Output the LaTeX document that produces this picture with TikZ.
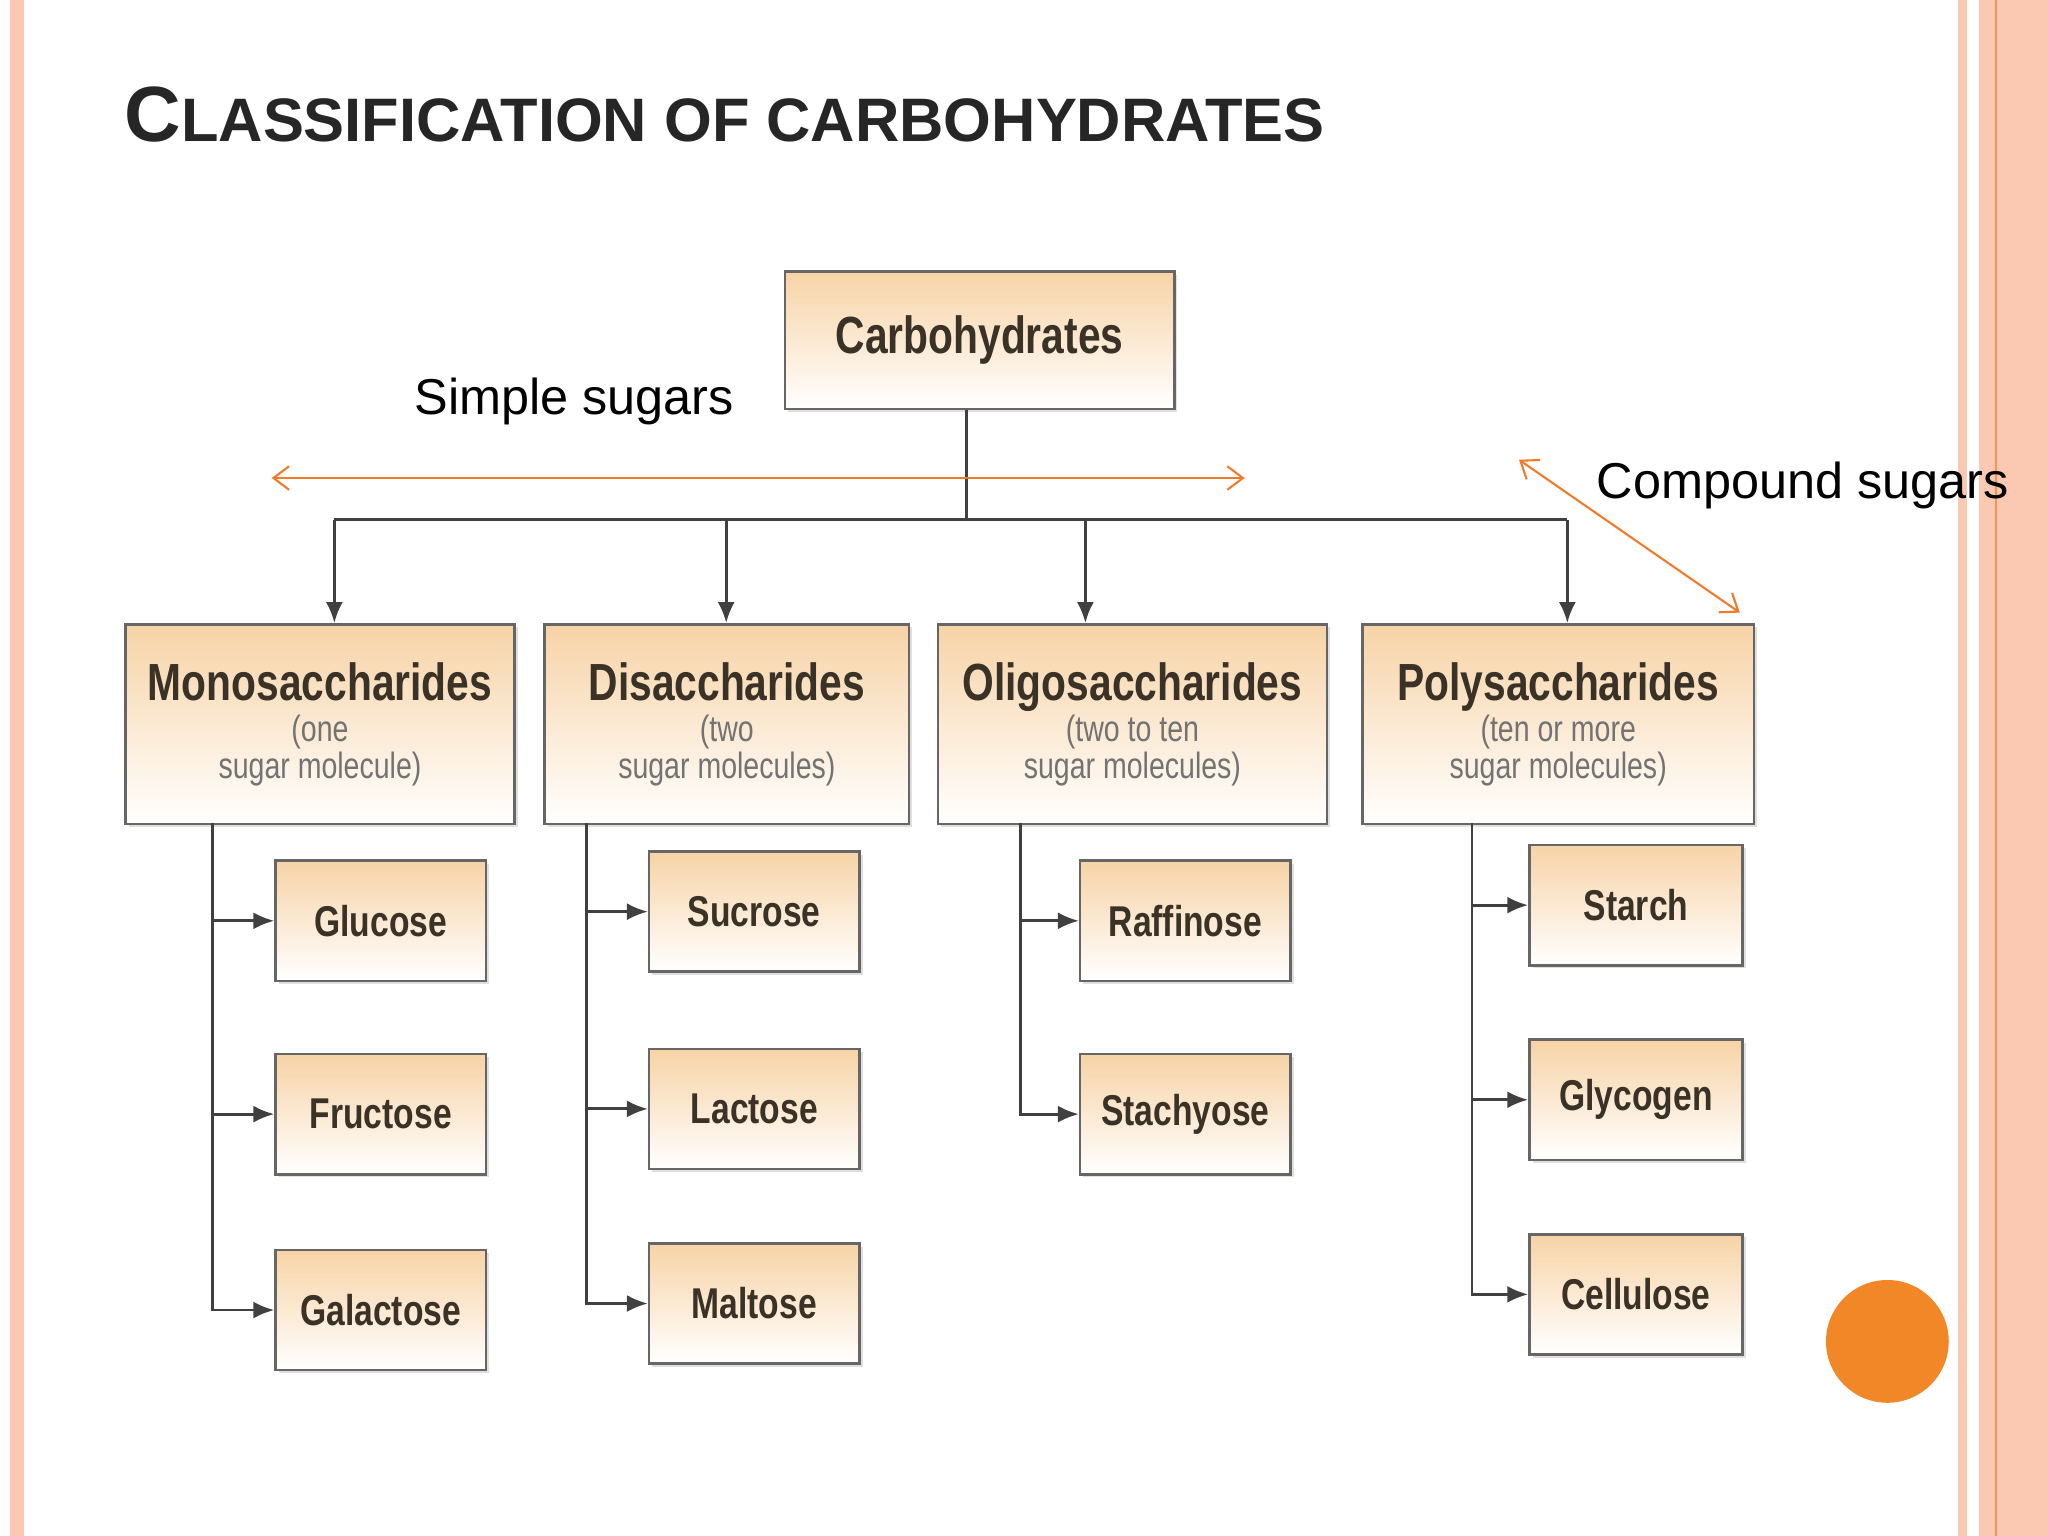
\documentclass[tikz,border=0pt]{standalone}
\usepackage{fontspec}
\setmainfont{Liberation Sans}
\newfontfamily\cond[FakeStretch=0.78]{Liberation Sans}
\usetikzlibrary{shadows,arrows.meta}
\definecolor{peach}{HTML}{F7D3A6}
\definecolor{salmon}{HTML}{FBC8B2}
\definecolor{orng}{HTML}{F07A2A}
\definecolor{txt}{HTML}{3A3226}
\definecolor{ln}{HTML}{404040}
\tikzset{
 x=0.5pt,y=-0.5pt,
 box/.style={anchor=north west,draw=gray!80!black,line width=1pt,top color=peach,bottom color=white,
   drop shadow={opacity=0.25,shadow xshift=1.2pt,shadow yshift=-1.2pt},inner sep=0pt,align=center,text=txt},
 conn/.style={draw=ln,line width=1.1pt},
 arr/.style={conn,-{Latex[length=8pt,width=6.5pt]}},
 oarr/.style={draw=orng,line width=0.8pt,{Straight Barb[length=6pt,width=9pt]}-{Straight Barb[length=6pt,width=9pt]}},
 big/.style={font=\cond\bfseries\fontsize{20}{22}\selectfont},
 chl/.style={box,minimum width=80.5pt,minimum height=46pt,font=\cond\bfseries\fontsize{16.5}{18}\selectfont},
 cat/.style={box,minimum height=76.5pt},
}
\newcommand{\subt}[1]{{\color{gray!90!black}\cond\fontsize{14}{15}\selectfont #1}}
\begin{document}
\begin{tikzpicture}
\useasboundingbox (0,0) rectangle (1568,1176);
\fill[white] (0,0) rectangle (1568,1176);
\fill[salmon] (8,0) rectangle (18,1176);
\fill[salmon] (1499,0) rectangle (1506,1176);
\fill[salmon] (1515,0) rectangle (1568,1176);
\draw[orng!80,line width=0.6pt] (1528,0) -- (1528,1176);
\node[anchor=base west,inner sep=0pt,font=\bfseries,text=black!85] (title) at (95,108)
 {{\fontsize{30}{32}\selectfont C}{\fontsize{23.5}{26}\selectfont LASSIFICATION OF CARBOHYDRATES}};
% top
\node[box,big,minimum width=149pt,minimum height=52.5pt] (carb) at (600,207) {Carbohydrates};
\node[cat,minimum width=149pt] (mono) at (95,477) {\parbox[c][76.5pt][c]{149pt}{\centering{\cond\bfseries\fontsize{20}{22}\selectfont Monosaccharides}\\[1pt]\subt{(one\\sugar molecule)}}};
\node[cat,minimum width=139.5pt] (di) at (416,477) {\parbox[c][76.5pt][c]{139.5pt}{\centering{\cond\bfseries\fontsize{20}{22}\selectfont Disaccharides}\\[1pt]\subt{(two\\sugar molecules)}}};
\node[cat,minimum width=149pt] (oligo) at (717,477) {\parbox[c][76.5pt][c]{149pt}{\centering{\cond\bfseries\fontsize{20}{22}\selectfont Oligosaccharides}\\[1pt]\subt{(two to ten\\sugar molecules)}}};
\node[cat,minimum width=150pt] (poly) at (1042,477) {\parbox[c][76.5pt][c]{150pt}{\centering{\cond\bfseries\fontsize{20}{22}\selectfont Polysaccharides}\\[1pt]\subt{(ten or more\\sugar molecules)}}};
% children
\node[chl] (glu) at (210,658) {Glucose};
\node[chl] (fru) at (210,806) {Fructose};
\node[chl] (gal) at (210,956) {Galactose};
\node[chl] (suc) at (496,651) {Sucrose};
\node[chl] (lac) at (496,802) {Lactose};
\node[chl] (mal) at (496,951) {Maltose};
\node[chl] (raf) at (826,658) {Raffinose};
\node[chl] (sta) at (826,806) {Stachyose};
\node[chl,minimum width=81.5pt] (str) at (1170,646) {Starch};
\node[chl,minimum width=81.5pt] (gly) at (1170,795) {Glycogen};
\node[chl,minimum width=81.5pt] (cel) at (1170,944) {Cellulose};
% bus
\coordinate (bus) at (740,398);
\coordinate (b1) at (256,398);
\coordinate (b2) at (556,398);
\coordinate (b3) at (831,398);
\coordinate (b4) at (1200,398);
\draw[conn] (carb.south -| bus) -- (bus);
\draw[conn] (b1) -- (b4);
\draw[arr] (b1) -- (b1 |- mono.north);
\draw[arr] (b2) -- (b2 |- di.north);
\draw[arr] (b3) -- (b3 |- oligo.north);
\draw[arr] (b4) -- (b4 |- poly.north);
% child connectors
\coordinate (m) at (163,630);
\coordinate (d) at (449,630);
\coordinate (o) at (781,630);
\coordinate (p) at (1127,630);
\draw[arr] (m) |- (gal.west);
\draw[arr] (m |- glu.west) -- (glu.west);
\draw[arr] (m |- fru.west) -- (fru.west);
\draw[arr] (d) |- (mal.west);
\draw[arr] (d |- suc.west) -- (suc.west);
\draw[arr] (d |- lac.west) -- (lac.west);
\draw[arr] (o) |- (sta.west);
\draw[arr] (o |- raf.west) -- (raf.west);
\draw[arr] (p) |- (cel.west);
\draw[arr] (p |- str.west) -- (str.west);
\draw[arr] (p |- gly.west) -- (gly.west);
% annotations
\node[anchor=west,inner sep=0pt,font=\fontsize{19.3}{21}\selectfont] (simple) at (317,307) {Simple sugars};
\node[anchor=west,inner sep=0pt,font=\fontsize{19.3}{21}\selectfont] (comp) at (1222,372) {Compound sugars};
\coordinate (s1) at (208,366);
\coordinate (s2) at (953,366);
\draw[oarr] (s1) -- (s2);
\coordinate (c1) at (1163,352);
\coordinate (c2) at (1332,469);
\draw[oarr] (c1) -- (c2);
\fill[orng!90!yellow] (1445,1027) circle (23.5pt);
\end{tikzpicture}
\end{document}
